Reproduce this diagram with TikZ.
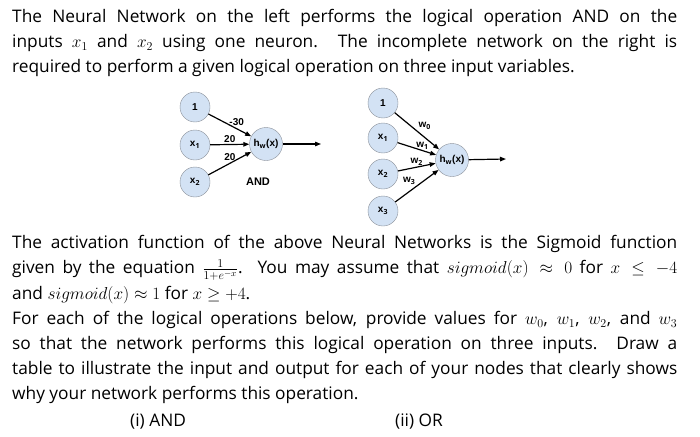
\documentclass[tikz,border=0pt]{standalone}
\usepackage{fontspec}
\setmainfont{Open Sans}
\newfontfamily\dg{Liberation Sans}
\usetikzlibrary{arrows.meta}
\definecolor{nb}{HTML}{D3E2F4}
\definecolor{nd}{HTML}{8A9099}
\begin{document}
\begin{tikzpicture}[x=1pt,y=-1pt,
 tl/.style={anchor=west,inner sep=0pt,font=\fontsize{17.3}{19}\selectfont},
 neu/.style={circle,draw=nd,fill=nb,minimum size=30pt,inner sep=0pt,font=\dg\bfseries\fontsize{10}{11}\selectfont},
 hn/.style={neu,minimum size=33pt},
 ar/.style={-{Triangle[length=6pt,width=4.5pt]},line width=1.2pt},
 wl/.style={font=\dg\bfseries\fontsize{10}{11}\selectfont,inner sep=1pt}]
\useasboundingbox (0,0) rectangle (700,436);
\fill[white] (0,0) rectangle (700,436);
\def\L#1#2{\makebox[665pt][s]{#2}}
\node[tl] (t1) at (12,18) {\L{}{The Neural Network on the left performs the logical operation AND on the}};
\node[tl] (t2) at (12,43) {\L{}{inputs $x_1$ and $x_2$ using one neuron. The incomplete network on the right is}};
\node[tl] (t3) at (12,68) {required to perform a given logical operation on three input variables.};
% left net
\node[neu] (a0) at (195,107) {1};
\node[neu] (a1) at (195,145) {x$_\mathbf{1}$};
\node[neu] (a2) at (195,182) {x$_\mathbf{2}$};
\node[hn] (ah) at (266,144) {h$_\mathbf{w}$(x)};
\coordinate (ao) at (321,144);
\draw[ar] (a0) -- node[wl,above right=-2pt] {-30} (ah);
\draw[ar] (a1) -- node[wl,above] {20} (ah);
\draw[ar] (a2) -- node[wl,above=1pt] {20} (ah);
\draw[ar] (ah) -- (ao);
\node[wl,font=\dg\bfseries\fontsize{11}{12}\selectfont] (and) at (258,182) {AND};
% right net
\node[neu] (b0) at (383,103) {1};
\node[neu] (b1) at (383,138) {x$_\mathbf{1}$};
\node[neu] (b2) at (383,174) {x$_\mathbf{2}$};
\node[neu] (b3) at (383,211) {x$_\mathbf{3}$};
\node[hn] (bh) at (452,160) {h$_\mathbf{w}$(x)};
\coordinate (bo) at (506,159);
\draw[ar] (b0) -- node[wl,above right=0pt] {w$_\mathbf{0}$} (bh);
\draw[ar] (b1) -- node[wl,above right=-2pt] {w$_\mathbf{1}$} (bh);
\draw[ar] (b2) -- node[wl,above] {w$_\mathbf{2}$} (bh);
\draw[ar] (b3) -- node[wl,above left=0pt] {w$_\mathbf{3}$} (bh);
\draw[ar] (bh) -- (bo);
% text below
\node[tl] (t4) at (12,244) {\L{}{The activation function of the above Neural Networks is the Sigmoid function}};
\node[tl] (t5) at (12,270) {\L{}{given by the equation $\frac{1}{1+e^{-x}}$. You may assume that $sigmoid(x)\approx 0\ \mathrm{for}\ x\le -4$}};
\node[tl] (t6) at (12,295) {and $sigmoid(x)\approx 1\ \mathrm{for}\ x\ge +4$.};
\node[tl] (t7) at (12,320) {\L{}{For each of the logical operations below, provide values for $w_0$, $w_1$, $w_2$, and $w_3$}};
\node[tl] (t8) at (12,345) {\L{}{so that the network performs this logical operation on three inputs. Draw a}};
\node[tl] (t9) at (12,370) {\L{}{table to illustrate the input and output for each of your nodes that clearly shows}};
\node[tl] (t10) at (12,395) {why your network performs this operation.};
\node[tl] (t11) at (130,422) {(i) AND};
\node[tl] (t12) at (395,422) {(ii) OR};
\end{tikzpicture}
\end{document}
